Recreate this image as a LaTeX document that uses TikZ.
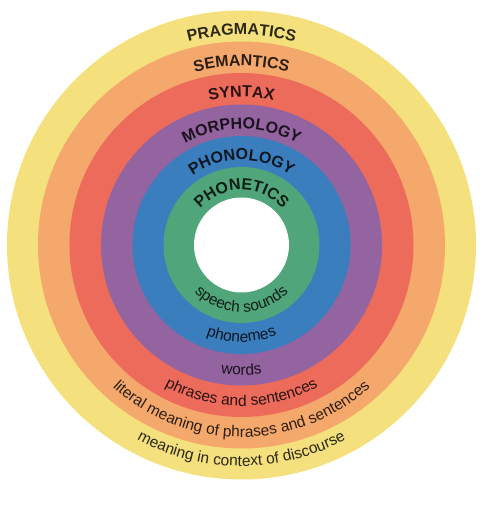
\documentclass[tikz,border=0pt]{standalone}
\usepackage{fontspec}
\setmainfont{Liberation Sans}
\usetikzlibrary{decorations.text}
\definecolor{cyel}{HTML}{F4E07C}
\definecolor{cora}{HTML}{F5A86B}
\definecolor{cred}{HTML}{EC6B5B}
\definecolor{cpur}{HTML}{9364A0}
\definecolor{cblu}{HTML}{3A7EBE}
\definecolor{cgre}{HTML}{50A57A}
\newcommand\toplabel[3]{%
  \path[decorate, decoration={text along path, text align=center,
    text color=#2!18!black,
    text={|\bfseries\fontsize{16}{16}\selectfont|#3}}]
    (c) ++(165:#1) arc[start angle=165, end angle=15, radius=#1];}
\newcommand\botlabel[3]{%
  \path[decorate, decoration={text along path, text align=center,
    text color=#2!18!black,
    text={|\fontsize{15.5}{15.5}\selectfont|#3}}]
    (c) ++(195:#1) arc[start angle=195, end angle=345, radius=#1];}
\begin{document}
\begin{tikzpicture}[x=1pt,y=1pt]
\useasboundingbox (0,0) rectangle (488,512);
\coordinate (c) at (241.5,267);
\fill[cyel] (c) circle[radius=234.5pt];
\fill[cora] (c) circle[radius=203.5pt];
\fill[cred] (c) circle[radius=172pt];
\fill[cpur] (c) circle[radius=140.5pt];
\fill[cblu] (c) circle[radius=109pt];
\fill[cgre] (c) circle[radius=78pt];
\fill[white] (c) circle[radius=47.5pt];
\toplabel{210pt}{cyel}{PRAGMATICS}
\toplabel{179pt}{cora}{SEMANTICS}
\toplabel{148pt}{cred}{SYNTAX}
\toplabel{116pt}{cpur}{MORPHOLOGY}
\toplabel{85pt}{cblu}{PHONOLOGY}
\toplabel{55pt}{cgre}{PHONETICS}
\botlabel{67pt}{cgre}{speech sounds}
\botlabel{97pt}{cblu}{phonemes}
\botlabel{130pt}{cpur}{words}
\botlabel{161pt}{cred}{phrases and sentences}
\botlabel{192pt}{cora}{literal meaning of phrases and sentences}
\botlabel{221pt}{cyel}{meaning in context of discourse}
\end{tikzpicture}
\end{document}
